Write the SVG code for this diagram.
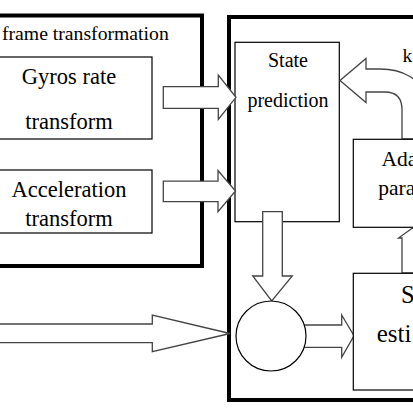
<svg xmlns="http://www.w3.org/2000/svg" width="413" height="413" viewBox="0 0 413 413">
<style>
.thick{fill:none;stroke:#000;stroke-width:4}
.box{fill:#fff;stroke:#000;stroke-width:1.2}
.arr{fill:#fff;stroke:#444;stroke-width:1.3;stroke-linejoin:miter}
text{font-family:"Liberation Serif","Times New Roman",serif;fill:#000}
.c{text-anchor:middle}
</style>
<rect width="413" height="413" fill="#fff"/>
<g id="frame-transformation">
<rect class="thick" x="-20" y="15.5" width="222" height="250.5"/>
<text x="2" y="40" font-size="19.7">frame transformation</text>
</g>
<g id="filter-container">
<rect class="thick" x="229" y="17" width="210" height="383"/>
</g>
<g id="gyros">
<rect class="box" x="-10" y="57" width="162" height="82"/>
<text class="c" x="69" y="84" font-size="22.5">Gyros rate</text>
<text class="c" x="69" y="129" font-size="22.5">transform</text>
</g>
<g id="accel">
<rect class="box" x="-10" y="170" width="162" height="63"/>
<text class="c" x="69" y="196.5" font-size="22.5">Acceleration</text>
<text class="c" x="69" y="226" font-size="22.5">transform</text>
</g>
<g id="state-prediction">
<rect class="box" x="235" y="42.3" width="104.3" height="179.4"/>
<text class="c" x="288" y="67" font-size="20">State</text>
<text class="c" x="288" y="106.5" font-size="20">prediction</text>
</g>
<g id="connectors">
<polygon class="arr" points="163.3,86.7 218.3,86.7 218.3,75 236,97.3 218.3,119.3 218.3,108.3 163.3,108.3"/>
<polygon class="arr" points="163.3,181.2 218,181.2 218,170.5 235.5,191 218,211.7 218,201.7 163.3,201.7"/>
<polygon class="arr" points="262.7,211.7 282.3,211.7 282.3,276 292.3,276 271.7,301 252.7,276 262.7,276"/>
<polygon class="arr" points="-5,324 152.3,324 152.3,315 230,333.5 152.3,351.7 152.3,342.7 -5,342.7"/>
<polygon class="arr" points="300,325 341.7,325 341.7,315 354,335.7 341.7,357.3 341.7,347.3 300,347.3"/>
<path class="arr" d="M340,80.5 L366,58.5 L366,69 L380,69 C400,69 424,78 424,100 L424,139 L402,139 L402,110 C402,98 396,92 385,92 L366,92 L366,102.5 Z"/>
<polygon class="arr" points="402,273 402,238 398.5,238 412.5,228 426.5,238 423,238 423,273"/>
</g>
<g id="sum">
<circle class="box" cx="271" cy="336" r="35"/>
</g>
<g id="adaptive">
<rect class="box" x="353.3" y="139.3" width="80" height="88"/>
<text x="381.5" y="166" font-size="21.5">Ada</text>
<text x="378.3" y="195" font-size="21.5">para</text>
</g>
<g id="state-estimation">
<rect class="box" x="353.3" y="273.3" width="80" height="116.7"/>
<text x="401" y="303.3" font-size="24.5">S</text>
<text x="376.7" y="341.7" font-size="25">esti</text>
</g>
<g id="gain-label">
<text x="402.5" y="62" font-size="19.5">k</text>
</g>
</svg>
